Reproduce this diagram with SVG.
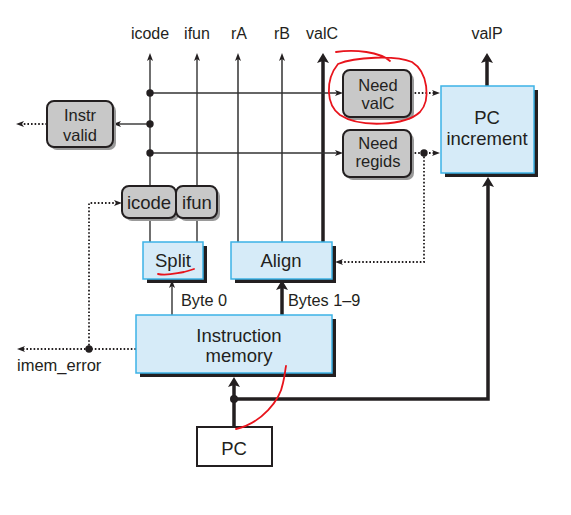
<svg xmlns="http://www.w3.org/2000/svg" width="571" height="515" viewBox="0 0 571 515">
<style>
text{font-family:"Liberation Sans",Arial,sans-serif;fill:#231f20}
.lbl{font-size:16px;text-anchor:middle}
.g{font-size:16.5px;text-anchor:middle}
.b{font-size:18.5px;text-anchor:middle}
.gbox{fill:#c8c8c8;stroke:#231f20;stroke-width:2}
.gsh{fill:#9a9a9a}
.bbox{fill:#d6ebf8;stroke:#3cb3e6;stroke-width:1.5}
.bsh{fill:#231f20}
.thin{fill:none;stroke:#333;stroke-width:1.4}
.mid{fill:none;stroke:#555;stroke-width:1.8}
.thick{fill:none;stroke:#231f20;stroke-width:3.5}
.dot{fill:none;stroke:#231f20;stroke-width:1.8;stroke-dasharray:1.6 2}
.red{fill:none;stroke:#e8141c;stroke-width:1.8;stroke-linecap:round}
</style>
<defs>
<marker id="a" viewBox="0 0 8 6" refX="3" refY="3" markerWidth="8" markerHeight="6" markerUnits="userSpaceOnUse" orient="auto"><path d="M0,0 L8,3 L0,6 L2,3 z" fill="#231f20"/></marker>
<marker id="A" viewBox="0 0 10 12" refX="2" refY="6" markerWidth="10" markerHeight="12" markerUnits="userSpaceOnUse" orient="auto"><path d="M0,0 L10,6 L0,12 L2,6 z" fill="#231f20"/></marker>
</defs>

<g id="labels">
<text class="lbl" x="150" y="39">icode</text>
<text class="lbl" x="197" y="39">ifun</text>
<text class="lbl" x="239" y="39">rA</text>
<text class="lbl" x="282" y="39">rB</text>
<text class="lbl" x="322" y="39">valC</text>
<text class="lbl" x="487" y="39">valP</text>
<text x="181" y="306" style="font-size:16.3px">Byte 0</text>
<text x="288" y="306" style="font-size:16.3px">Bytes 1–9</text>
<text x="17" y="371" style="font-size:16.5px">imem_error</text>
</g>

<g id="connectors">
<path class="thin" d="M150,186 V58" marker-end="url(#a)"/>
<path class="thin" d="M197,186 V58" marker-end="url(#a)"/>
<path class="mid" d="M238,242 V58" marker-end="url(#a)"/>
<path class="mid" d="M282,242 V58" marker-end="url(#a)"/>
<path class="thick" d="M323,242 V61" marker-end="url(#A)"/>
<path class="thin" d="M150,93 H338" marker-end="url(#a)"/>
<path class="thin" d="M150,153 H338" marker-end="url(#a)"/>
<path class="thin" d="M150,124 H118" marker-end="url(#a)"/>
<path class="thin" d="M150,218 V242"/>
<path class="thin" d="M197,218 V242"/>
<path class="thin" d="M172,315 V285" marker-end="url(#a)"/>
<path class="thick" d="M282,315 V288" marker-end="url(#A)"/>
<path class="thick" d="M234,427 V385" marker-end="url(#A)"/>
<path class="thick" d="M234,399 H488 V185" marker-end="url(#A)"/>
<path class="thick" d="M487,86 V61" marker-end="url(#A)"/>
<path class="dot" d="M47,124 H21" marker-end="url(#a)"/>
<path class="dot" d="M411,93 H435" marker-end="url(#a)"/>
<path class="dot" d="M411,153 H435" marker-end="url(#a)"/>
<path class="dot" d="M424,153 V262 H340" marker-end="url(#a)"/>
<path class="dot" d="M136,349 H22" marker-end="url(#a)"/>
<path class="dot" d="M89,349 V203 H117" marker-end="url(#a)"/>
<circle cx="150" cy="93" r="3.7" fill="#231f20"/>
<circle cx="150" cy="124" r="3.7" fill="#231f20"/>
<circle cx="150" cy="153" r="3.7" fill="#231f20"/>
<circle cx="424" cy="153" r="3.7" fill="#231f20"/>
<circle cx="89" cy="349" r="3.7" fill="#231f20"/>
<circle cx="234" cy="399" r="4" fill="#231f20"/>
</g>

<g id="instr-valid">
<rect class="gsh" x="50" y="104" width="66" height="46" rx="7"/>
<rect class="gbox" x="47" y="101" width="66" height="46" rx="7"/>
<text class="g" x="80" y="121">Instr</text>
<text class="g" x="80" y="141">valid</text>
</g>

<g id="need-valc">
<rect class="gsh" x="346" y="73" width="68" height="47" rx="7"/>
<rect class="gbox" x="343" y="70" width="68" height="47" rx="7"/>
<text class="g" x="378" y="91">Need</text>
<text class="g" x="378" y="109">valC</text>
</g>

<g id="need-regids">
<rect class="gsh" x="346" y="133" width="68" height="47" rx="7"/>
<rect class="gbox" x="343" y="130" width="68" height="47" rx="7"/>
<text class="g" x="378" y="149">Need</text>
<text class="g" x="378" y="167">regids</text>
</g>

<g id="pc-increment">
<rect class="bsh" x="445" y="90" width="93" height="87"/>
<rect class="bbox" x="441" y="86" width="93" height="87"/>
<text class="b" x="487" y="124">PC</text>
<text class="b" x="487" y="145">increment</text>
</g>

<g id="icode-box">
<rect class="gsh" x="125" y="189" width="54" height="32" rx="7"/>
<rect class="gbox" x="122" y="186" width="54" height="32" rx="7"/>
<text class="b" x="149" y="209">icode</text>
</g>

<g id="ifun-box">
<rect class="gsh" x="179" y="189" width="41" height="32" rx="7"/>
<rect class="gbox" x="176" y="186" width="41" height="32" rx="7"/>
<text class="b" x="197" y="209">ifun</text>
</g>

<g id="split">
<rect class="bsh" x="147" y="246" width="60" height="37"/>
<rect class="bbox" x="143" y="242" width="60" height="37"/>
<text class="b" x="173" y="267">Split</text>
</g>

<g id="align">
<rect class="bsh" x="235" y="246" width="101" height="37"/>
<rect class="bbox" x="231" y="242" width="101" height="37"/>
<text class="b" x="281" y="267">Align</text>
</g>

<g id="instruction-memory">
<rect class="bsh" x="140" y="319" width="196" height="58"/>
<rect class="bbox" x="136" y="315" width="196" height="58"/>
<text class="b" x="239" y="342">Instruction</text>
<text class="b" x="239" y="362">memory</text>
</g>

<g id="pc">
<rect x="197" y="427" width="75" height="39" fill="#fff" stroke="#231f20" stroke-width="2"/>
<text class="b" x="234" y="455">PC</text>
</g>

<g id="annotations">
<path class="red" d="M336,52 C355,49 380,52 390,61 M338,64 C355,57 395,55 412,62 C428,72 431,100 420,112 C405,126 360,128 340,115 C326,105 325,80 338,64"/>
<path class="red" d="M158,274 C168,276 176,273 184,272 C188,271 191,270 194,269"/>
<path class="red" d="M236,429 C262,423 280,400 283,383 C285,375 285,371 286,366"/>
</g>
</svg>
